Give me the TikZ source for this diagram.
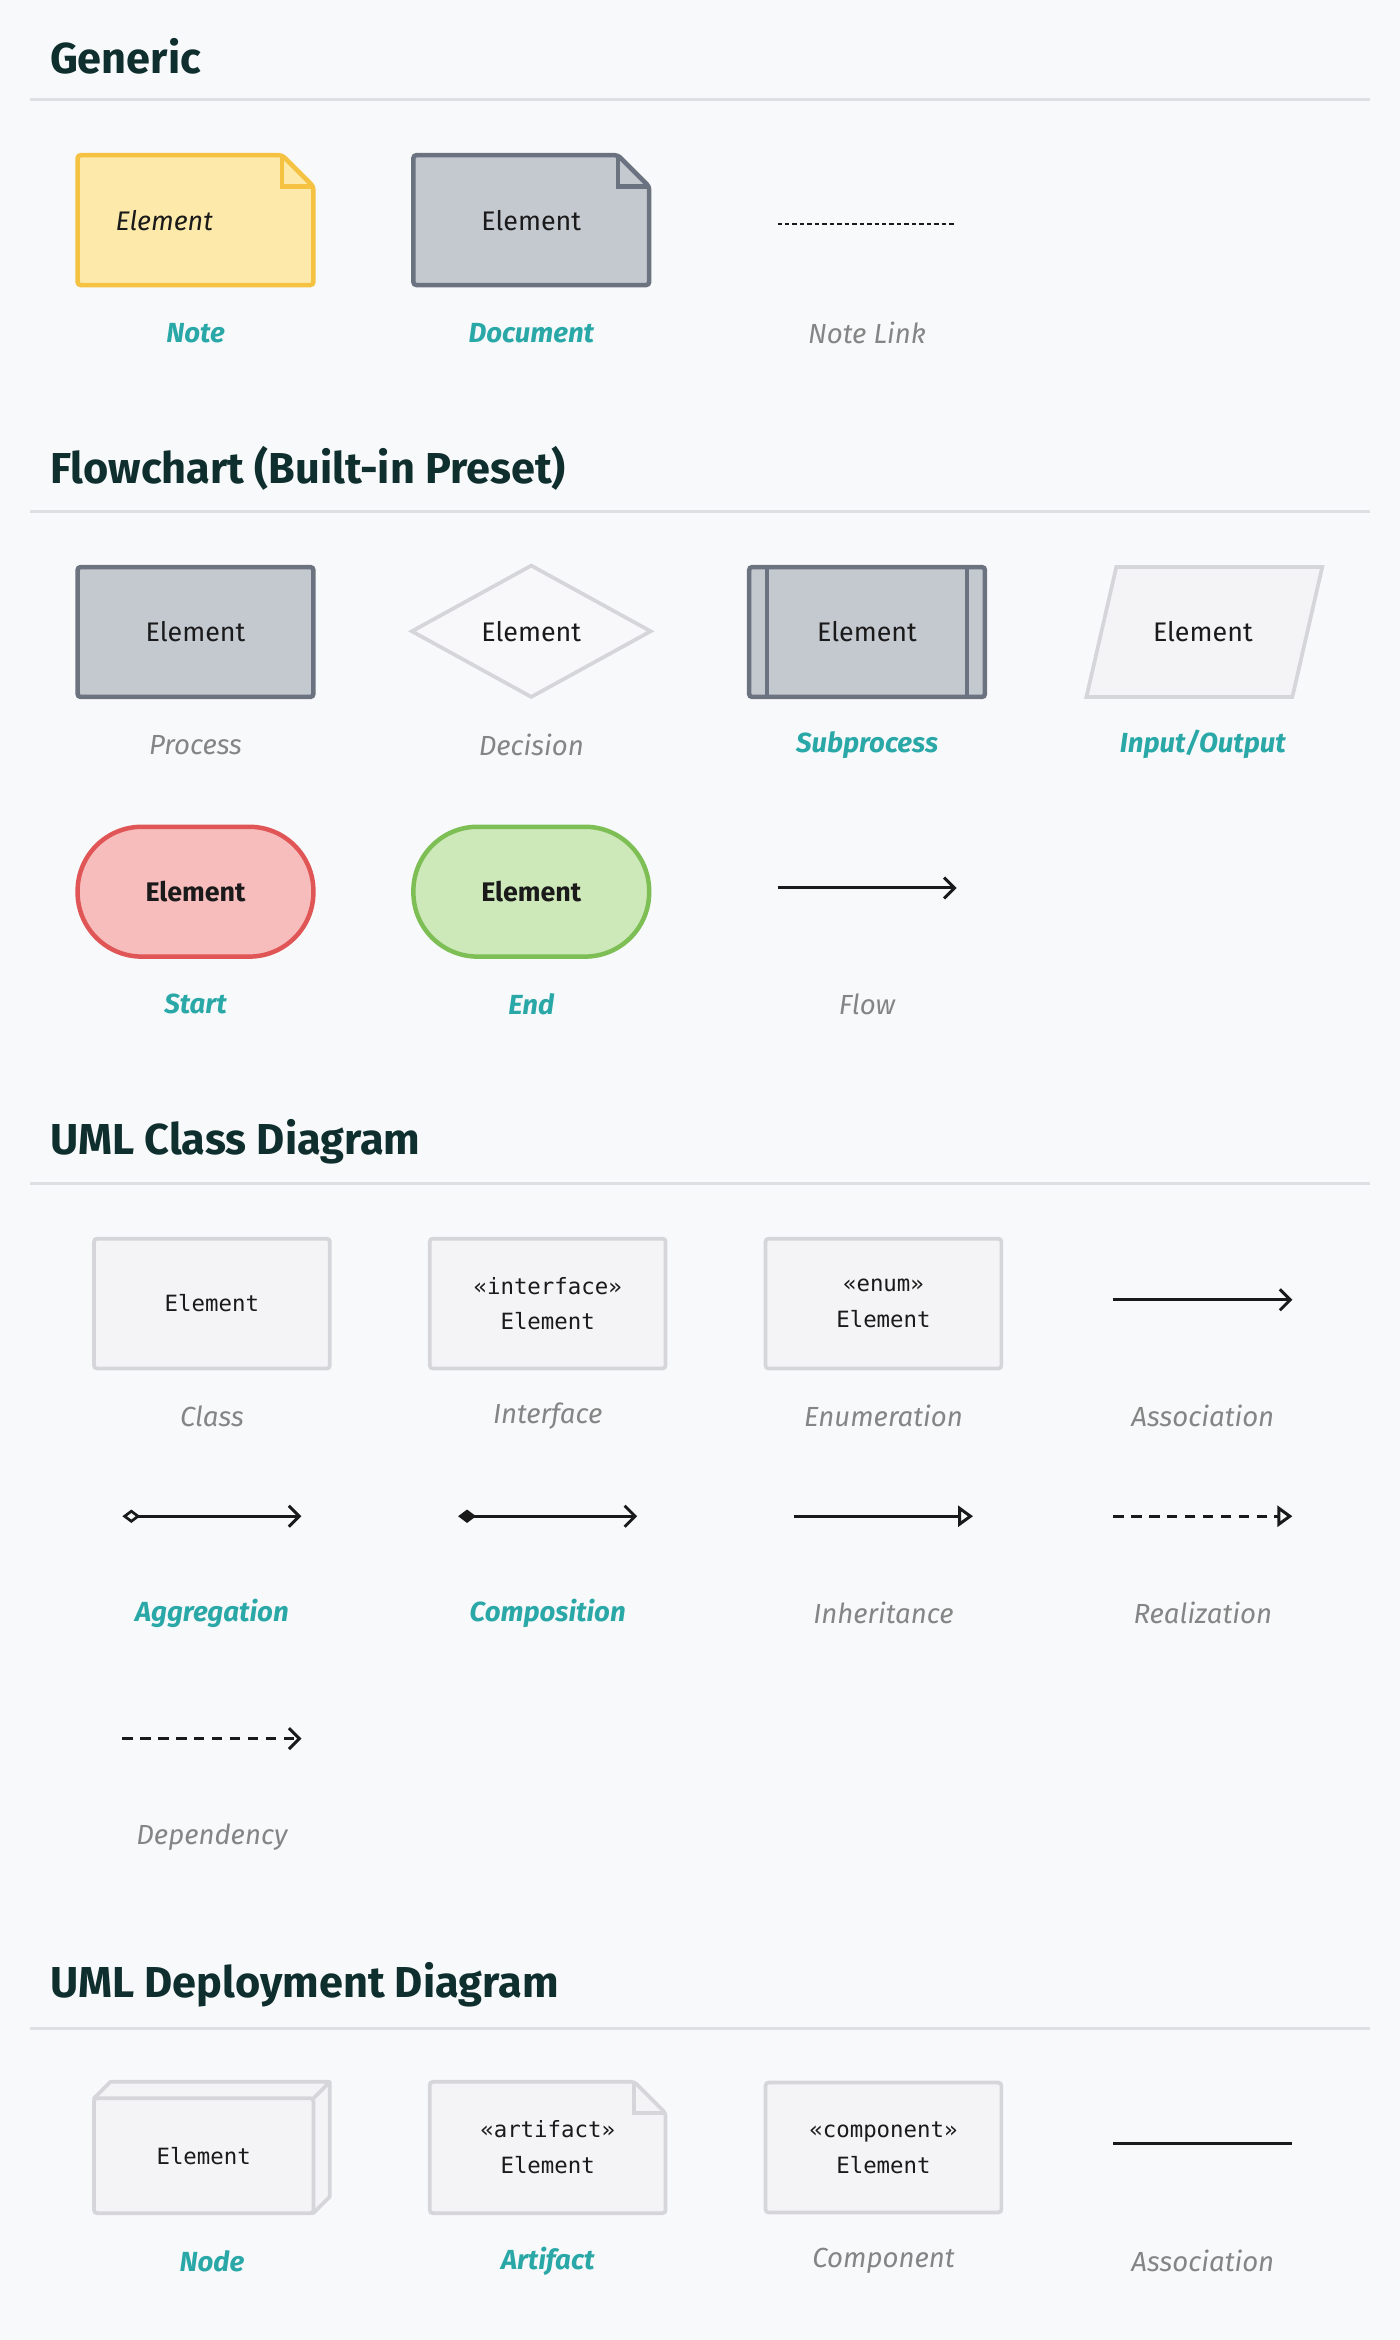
\documentclass[tikz,border=0pt]{standalone}
\usepackage{fontspec}
\setmainfont{Fira Sans}
\newfontfamily\monof{DejaVu Sans Mono}
\usetikzlibrary{arrows.meta,shapes.geometric}
\definecolor{bg}{HTML}{F8F9FA}
\definecolor{head}{HTML}{0F2E2E}
\definecolor{rulec}{HTML}{DDE0E3}
\definecolor{teal}{HTML}{2AA8A8}
\definecolor{grayl}{HTML}{858585}
\definecolor{notef}{HTML}{FDE9A9}
\definecolor{notes}{HTML}{F5C242}
\definecolor{docf}{HTML}{C4C8CF}
\definecolor{docs}{HTML}{6B7280}
\definecolor{clsf}{HTML}{F4F4F6}
\definecolor{clss}{HTML}{D6D6DA}
\definecolor{stf}{HTML}{F7BCBC}
\definecolor{sts}{HTML}{E05555}
\definecolor{enf}{HTML}{CDE8B9}
\definecolor{ens}{HTML}{7DBF55}
\definecolor{ink}{HTML}{1A1A1A}
\tikzset{
 x=1pt,y=-1pt,
 heading/.style={anchor=west,font=\fontsize{29}{31}\selectfont\bfseries,text=head},
 tlab/.style={font=\fontsize{18.5}{20}\selectfont\bfseries\itshape,text=teal},
 glab/.style={font=\fontsize{18.5}{20}\selectfont\itshape,text=grayl},
 el/.style={font=\fontsize{18}{20}\selectfont,text=ink},
 mel/.style={font=\monof\fontsize{15}{24}\selectfont,text=ink,align=center},
 rl/.style={rulec,line width=2},
 line/.style={ink,line width=2},
 tipo/.style={-{Straight Barb[length=7,width=14,line width=2]}},
 cls/.style={draw=clss,fill=clsf,line width=2.5,rounded corners=2},
}
\begin{document}
\begin{tikzpicture}
\fill[bg] (0,0) rectangle (938,1568);
\useasboundingbox (0,0) rectangle (938,1568);
% headings
\node[heading] (h1) at (30,38) {Generic};
\draw[rl] (20,67) -- (918,67);
\node[heading] (h2) at (30,314) {Flowchart (Built-in Preset)};
\draw[rl] (20,343) -- (918,343);
\node[heading] (h3) at (30,765) {UML Class Diagram};
\draw[rl] (20,793) -- (918,793);
\node[heading] (h4) at (30,1330) {UML Deployment Diagram};
\draw[rl] (20,1359) -- (918,1359);
% Generic
\draw[notes,fill=notef,line width=3,rounded corners=2] (52,104) -- (189,104) -- (210,125) -- (210,191) -- (52,191) -- cycle;
\draw[notes,line width=3] (189,104) -- (189,125) -- (210,125);
\node[el,font=\fontsize{18}{20}\selectfont\itshape] (n1) at (110,148) {Element};
\node[tlab] (l1) at (131,223) {Note};
\draw[docs,fill=docf,line width=3,rounded corners=2] (277,104) -- (414,104) -- (435,125) -- (435,191) -- (277,191) -- cycle;
\draw[docs,line width=3] (414,104) -- (414,125) -- (435,125);
\node[el] (n2) at (356,148) {Element};
\node[tlab] (l2) at (356,223) {Document};
\coordinate (a1) at (521,150); \coordinate (b1) at (640,150);
\draw[ink,line width=1.8,dash pattern=on 3 off 2] (a1) -- (b1);
\node[glab] (l3) at (581,223) {Note Link};
% Flowchart
\node[draw=docs,fill=docf,line width=3,rounded corners=2,minimum width=158,minimum height=87,el] (p) at (131,423.5) {Element};
\node[glab] at (131,499) {Process};
\draw[clss,fill=clsf!60!white,line width=2.5] (276,423) -- (356,379) -- (436,423) -- (356,467) -- cycle;
\node[el] (d) at (356,423) {Element};
\node[glab] at (356,499) {Decision};
\node[draw=docs,fill=docf,line width=3,rounded corners=2,minimum width=158,minimum height=87,el] (s) at (581,423.5) {Element};
\draw[docs,line width=3] (514,380) -- (514,467) (648,380) -- (648,467);
\node[tlab] at (581,499) {Subprocess};
\draw[clss,fill=clsf,line width=2.5] (748,380) -- (886,380) -- (866,467) -- (728,467) -- cycle;
\node[el] (io) at (806,423) {Element};
\node[tlab] at (806,499) {Input/Output};
\node[draw=sts,fill=stf,line width=3,rounded corners=43,minimum width=158,minimum height=87,el,font=\fontsize{18}{20}\selectfont\bfseries] (st) at (131,597.5) {Element};
\node[tlab] at (131,673) {Start};
\node[draw=ens,fill=enf,line width=3,rounded corners=43,minimum width=158,minimum height=87,el,font=\fontsize{18}{20}\selectfont\bfseries] (en) at (356,597.5) {Element};
\node[tlab] at (356,673) {End};
\coordinate (a2) at (521,595); \coordinate (b2) at (641,595);
\draw[line,tipo] (a2) -- (b2);
\node[glab] at (581,673) {Flow};
% UML class
\node[cls,minimum width=158,minimum height=87,mel] (c1) at (142,873.5) {Element};
\node[glab] at (142,949) {Class};
\node[cls,minimum width=158,minimum height=87,mel] (c2) at (367,873.5) {«interface»\\Element};
\node[glab] at (367,949) {Interface};
\node[cls,minimum width=158,minimum height=87,mel] (c3) at (592,873.5) {«enum»\\Element};
\node[glab] at (592,949) {Enumeration};
\coordinate (a3) at (746,871); \coordinate (b3) at (866,871);
\draw[line,tipo] (a3) -- (b3);
\node[glab] at (806,949) {Association};
\coordinate (a4) at (82,1016); \coordinate (b4) at (202,1016);
\draw[line,{Diamond[open,length=12,width=9,line width=1.8]}-{Straight Barb[length=7,width=14,line width=2]}] (a4) -- (b4);
\node[tlab] at (142,1081) {Aggregation};
\coordinate (a5) at (307,1016); \coordinate (b5) at (427,1016);
\draw[line,{Diamond[length=12,width=9]}-{Straight Barb[length=7,width=14,line width=2]}] (a5) -- (b5);
\node[tlab] at (367,1081) {Composition};
\coordinate (a6) at (532,1016); \coordinate (b6) at (652,1016);
\draw[line,-{Triangle[open,length=10,width=14,line width=2]}] (a6) -- (b6);
\node[glab] at (592,1081) {Inheritance};
\coordinate (a7) at (746,1016); \coordinate (b7) at (866,1016);
\draw[line,dash pattern=on 7 off 5,-{Triangle[open,length=10,width=14,line width=2]}] (a7) -- (b7);
\node[glab] at (806,1081) {Realization};
\coordinate (a8) at (82,1165); \coordinate (b8) at (202,1165);
\draw[line,dash pattern=on 7 off 5,tipo] (a8) -- (b8);
\node[glab] at (142,1231) {Dependency};
% Deployment
\draw[clss,fill=clsf,line width=2.5,line join=round] (63,1406) -- (74,1395) -- (221,1395) -- (221,1472) -- (210,1483) -- cycle;
\draw[clss,line width=2.5] (210,1406) -- (221,1395);
\node[cls,minimum width=147,minimum height=77,mel] (dn) at (136.5,1444.5) {Element};
\node[tlab] at (142,1515) {Node};
\draw[clss,fill=clsf,line width=2.5,rounded corners=2] (288,1395) -- (425,1395) -- (446,1416) -- (446,1483) -- (288,1483) -- cycle;
\draw[clss,line width=2.5] (425,1395) -- (425,1416) -- (446,1416);
\node[mel] (ar) at (367,1439) {«artifact»\\Element};
\node[tlab] at (367,1515) {Artifact};
\node[cls,minimum width=158,minimum height=87,mel] (cp) at (592,1439) {«component»\\Element};
\node[glab] at (592,1515) {Component};
\coordinate (a9) at (746,1436); \coordinate (b9) at (866,1436);
\draw[line] (a9) -- (b9);
\node[glab] at (806,1515) {Association};
\end{tikzpicture}
\end{document}
